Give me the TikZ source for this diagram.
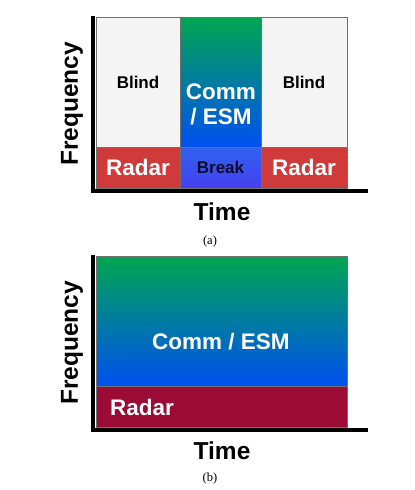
\documentclass[tikz,border=0pt]{standalone}
\usepackage{fontspec}
\setmainfont{Liberation Sans}
\newfontfamily\capfont{Liberation Serif}
\definecolor{blindgray}{HTML}{F4F4F4}
\definecolor{radarred}{HTML}{D03A3A}
\definecolor{radardark}{HTML}{9C0B35}
\definecolor{gtop}{HTML}{00A651}
\definecolor{gbot}{HTML}{0050F0}
\definecolor{brtop}{HTML}{2F62EC}
\definecolor{brbot}{HTML}{4640F2}
\definecolor{navy}{HTML}{0C0C30}
\definecolor{cellline}{HTML}{707070}
\tikzset{
  cell/.style={draw=cellline, line width=0.8pt, anchor=north west, inner sep=0pt, outer sep=0pt},
  blindcell/.style={cell, fill=blindgray},
  radarcell/.style={cell, fill=radarred},
  commcell/.style={cell, top color=gtop, bottom color=gbot},
  breakcell/.style={cell, top color=brtop, bottom color=brbot},
  axis/.style={line width=3.5pt, line join=miter},
  lbl/.style={font=\bfseries\fontsize{17}{19}\selectfont, inner sep=0pt},
  biglbl/.style={font=\bfseries\fontsize{22.5}{26}\selectfont, inner sep=0pt, text=white},
  axlbl/.style={font=\bfseries\fontsize{24.5}{28}\selectfont, inner sep=0pt},
  caption/.style={font=\capfont\fontsize{12.5}{14}\selectfont, inner sep=0pt}
}
\begin{document}
\begin{tikzpicture}[x=1pt,y=-1pt]
\useasboundingbox (0,0) rectangle (415,490);
% ---------- panel (a)
\node[blindcell, minimum width=84pt, minimum height=130pt] (b1) at (96,17) {};
\node[commcell, minimum width=81pt, minimum height=130pt] (c1) at (180,17) {};
\node[blindcell, minimum width=86pt, minimum height=130pt] (b2) at (261,17) {};
\node[radarcell, minimum width=84pt, minimum height=41pt] (r1) at (96,147) {};
\node[breakcell, minimum width=81pt, minimum height=41pt] (br) at (180,147) {};
\node[radarcell, minimum width=86pt, minimum height=41pt] (r2) at (261,147) {};
\node[lbl] (tb1) at (b1.center) {Blind};
\node[lbl] (tb2) at (b2.center) {Blind};
\node[biglbl, align=center] (tc1) at (221,104) {Comm\\[-1pt]/ ESM};
\node[biglbl] (tr1) at (r1.center) {Radar};
\node[biglbl] (tr2) at (r2.center) {Radar};
\node[lbl, text=navy] (tbr) at (br.center) {Break};
\coordinate (atop) at (93,16);
\coordinate (aorig) at (93,191);
\coordinate (aend) at (368,191);
\draw[axis] (atop) -- (aorig) -- (aend);
\node[axlbl, rotate=90] (fa) at (72,104) {Frequency};
\node[axlbl] (ta) at (222,212) {Time};
\node[caption] (capa) at (210,241) {(a)};
% ---------- panel (b)
\node[commcell, minimum width=251pt, minimum height=130pt] (c2) at (96,256) {};
\node[cell, fill=radardark, minimum width=251pt, minimum height=41pt] (r3) at (96,386) {};
\node[biglbl] (tc2) at (221,342) {Comm / ESM};
\node[biglbl, anchor=west] (tr3) at (110,407) {Radar};
\coordinate (btop) at (93,255);
\coordinate (borig) at (93,430);
\coordinate (bend) at (368,430);
\draw[axis] (btop) -- (borig) -- (bend);
\node[axlbl, rotate=90] (fb) at (72,343) {Frequency};
\node[axlbl] (tb) at (222,451) {Time};
\node[caption] (capb) at (210,478) {(b)};
\end{tikzpicture}
\end{document}
